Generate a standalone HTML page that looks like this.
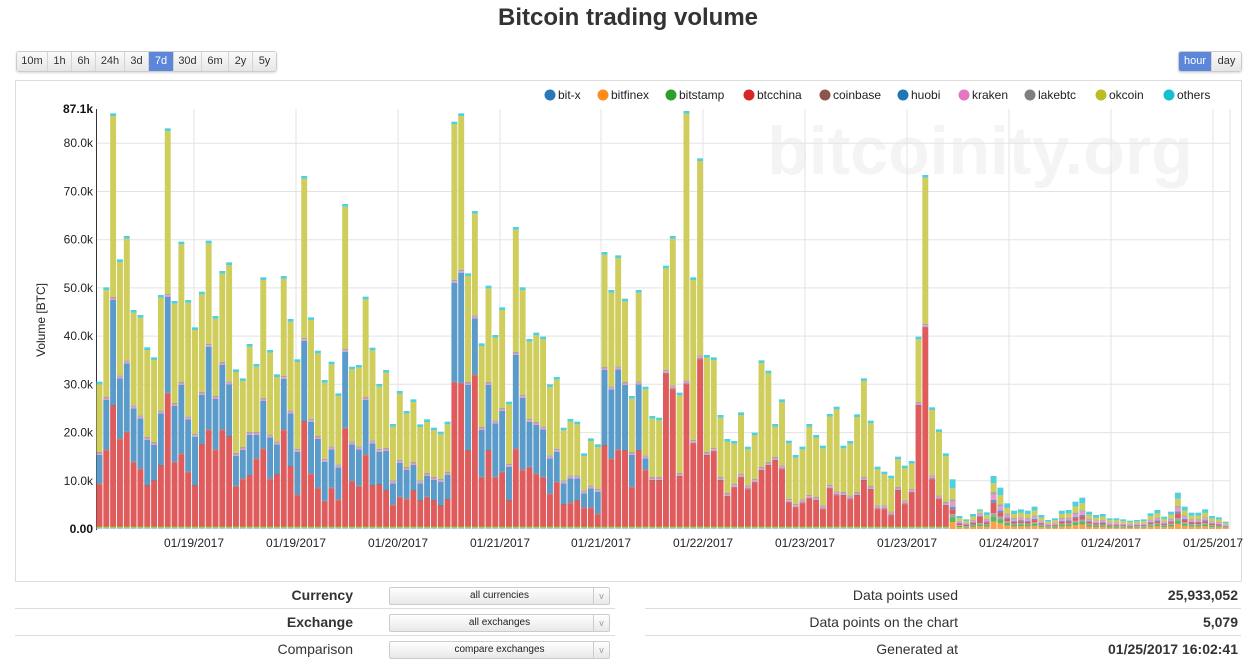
<!DOCTYPE html>
<html><head><meta charset="utf-8"><style>
body{margin:0;width:1251px;height:657px;overflow:hidden;background:#fff;font-family:"Liberation Sans",sans-serif;color:#333;position:relative}
.a{position:absolute}
h1{position:absolute;left:0;width:1256px;top:4px;margin:0;text-align:center;font-size:24px;font-weight:bold;color:#333}
.btns{position:absolute;top:51px;height:19px;display:flex;border:1px solid #ccc;border-radius:3px;overflow:hidden;box-shadow:0 1px 2px rgba(0,0,0,.15)}
.btns span{font-size:11px;line-height:19px;text-align:center;background:linear-gradient(#fafafa,#e6e6e6);border-right:1px solid #d4d4d4;color:#333}
.btns span.on{background:#5b86d9;color:#fff}
.sel{position:absolute;left:389px;width:219px;height:16px;border:1px solid #ccc;border-radius:2px;background:linear-gradient(#fff,#e8e8e8);font-size:10px;text-align:center;line-height:16px;color:#222}
.sel:after{content:"v";position:absolute;right:0;top:0;width:15px;height:16px;border-left:1px solid #ccc;color:#999;font-size:9px}
.lab{position:absolute;font-size:14px;text-align:right}
.hl{position:absolute;height:1px;background:#ddd}
</style></head><body>
<h1>Bitcoin trading volume</h1>
<div class="btns" style="left:16px"><span style="width:30px">10m</span><span style="width:23px">1h</span><span style="width:23px">6h</span><span style="width:28px">24h</span><span style="width:23px">3d</span><span class="on" style="width:24px">7d</span><span style="width:27px">30d</span><span style="width:26px">6m</span><span style="width:23px">2y</span><span style="width:23px;border:0">5y</span></div>
<div class="btns" style="left:1178px"><span class="on" style="width:32px">hour</span><span style="width:29px;border:0">day</span></div>
<div class="a" style="left:15px;top:80px;width:1225px;height:500px;border:1px solid #ddd"></div>
<svg class="a" style="left:0;top:0" width="1251" height="600" id="s">
<text x="980" y="174" font-size="68" font-weight="bold" fill="#f4f4f4" text-anchor="middle" font-family="Liberation Sans">bitcoinity.org</text>
</svg>
<div class="hl" style="left:15px;top:608px;width:600px"></div>
<div class="hl" style="left:15px;top:635px;width:600px"></div>
<div class="hl" style="left:645px;top:581px;width:596px"></div>
<div class="hl" style="left:645px;top:608px;width:596px"></div>
<div class="hl" style="left:645px;top:635px;width:596px"></div>
<div class="lab" style="right:898px;top:587px;font-weight:bold">Currency</div>
<div class="lab" style="right:898px;top:614px;font-weight:bold">Exchange</div>
<div class="lab" style="right:898px;top:641px">Comparison</div>
<div class="sel" style="top:587px">all currencies</div>
<div class="sel" style="top:614px">all exchanges</div>
<div class="sel" style="top:641px">compare exchanges</div>
<div class="lab" style="right:293px;top:587px">Data points used</div>
<div class="lab" style="right:293px;top:614px">Data points on the chart</div>
<div class="lab" style="right:293px;top:641px">Generated at</div>
<div class="lab" style="right:13px;top:587px;font-weight:bold">25,933,052</div>
<div class="lab" style="right:13px;top:614px;font-weight:bold">5,079</div>
<div class="lab" style="right:13px;top:641px;font-weight:bold">01/25/2017 16:02:41</div>
<script>
var T=[845,562,40,478,408,630,645,742,772,585,85,603,425,600,682,575,422,648,513,487,808,835,732,792,532,750,823,528,657,778,228,652,752,840,785,880,312,800,795,590,743,852,810,972,873,933,898,973,958,983,995,965,65,40,520,333,730,557,705,622,905,381,562,717,698,710,853,831,983,957,965,1060,1015,1033,456,570,466,596,888,570,860,948,953,497,408,878,33,532,175,765,772,945,1017,1023,937,1040,998,781,812,972,898,1022,1065,1040,972,1005,1037,942,920,1037,1023,943,835,962,1100,1115,1127,1070,1097,1083,710,225,922,988,1060,1138,1248,1258,1242,1228,1237,1128,1163,1210,1232,1228,1232,1220,1245,1260,1255,1232,1230,1205,1193,1235,1245,1242,1255,1255,1258,1262,1260,1258,1240,1230,1250,1235,1178,1220,1238,1238,1228,1248,1252,1265];
var B=[1065,900,600,835,790,925,955,1020,1035,940,590,918,855,958,1010,885,740,897,795,853,1068,1050,1005,1005,903,1012,1033,836,940,1055,722,965,1017,1085,1048,1102,755,1033,1048,900,1030,1055,1053,1150,1088,1110,1095,1150,1128,1140,1145,1125,548,518,855,655,990,855,970,933,1100,765,893,965,975,988,1075,1055,1150,1135,1135,1180,1165,1175,810,868,808,855,1065,853,1075];
var R=[1150,1048,915,1015,995,1085,1105,1155,1140,1095,878,1085,1060,1115,1155,1032,988,1048,988,1008,1157,1135,1125,1075,1045,1135,1122,988,1098,1183,963,1120,1162,1202,1163,1198,983,1142,1157,1063,1155,1152,1170,1213,1190,1195,1170,1200,1190,1200,1215,1197,845,848,1050,823,1130,1050,1130,1115,1200,1045,1108,1100,1120,1130,1180,1145,1212,1207,1200,1222,1222,1240,1035,1075,1048,1050,1160,1050,1108,1140,1140,818,865,1128,850,1028,775,1065,1052,1140,1188,1160,1130,1165,1145,1110,1095,1080,1105,1205,1220,1207,1193,1200,1225,1163,1183,1185,1195,1185,1140,1167,1225,1225,1243,1170,1210,1175,915,680,1135,1195,1215,1243,1270,1275,1270,1250,1275,1208,1245,1265,1270,1270,1270,1270,1275,1280,1278,1275,1275,1265,1260,1275,1278,1275,1280,1280,1280,1282,1282,1282,1278,1275,1280,1275,1240,1260,1270,1270,1268,1275,1278,1282];
var s=document.getElementById('s'),h='',NS=166,P=(1229-96)/NS;
function ry(z){return 100+z/3}
function Y(v){return 529-v*4.822}
var vals=[80,70,60,50,40,30,20,10];
vals.forEach(function(v){var y=Y(v).toFixed(1);h+='<line x1="96" x2="1230" y1="'+y+'" y2="'+y+'" stroke="#e3e3e3"/>';
h+='<text x="93" y="'+(+y+4)+'" font-size="12" text-anchor="end" fill="#222">'+v.toFixed(1)+'k</text>';});
var gx=[194,296,398,500,601,703,805,907,1009,1111,1213],gl=['01/19/2017','01/19/2017','01/20/2017','01/21/2017','01/21/2017','01/22/2017','01/23/2017','01/23/2017','01/24/2017','01/24/2017','01/25/2017'];
gx.forEach(function(x,i){h+='<line x1="'+x+'" x2="'+x+'" y1="109" y2="529" stroke="#e3e3e3"/>';
h+='<text x="'+x+'" y="547" font-size="12" text-anchor="middle" fill="#222">'+gl[i]+'</text>';});
h+='<line x1="1230" x2="1230" y1="109" y2="529" stroke="#e3e3e3"/>';
h+='<text x="93" y="113" font-size="12" font-weight="bold" text-anchor="end" fill="#111">87.1k</text>';
h+='<text x="93" y="533" font-size="12" font-weight="bold" text-anchor="end" fill="#111">0.00</text>';
h+='<line x1="96.5" x2="96.5" y1="109" y2="530" stroke="#333"/>';
h+='<text transform="translate(45,320) rotate(-90)" font-size="12" text-anchor="middle" fill="#222">Volume [BTC]</text>';
function r(x,y1,y2,c){if(y2-y1<=0.05)return;h+='<rect x="'+x.toFixed(2)+'" y="'+y1.toFixed(2)+'" width="'+(P-0.9).toFixed(2)+'" height="'+(y2-y1).toFixed(2)+'" fill="'+c+'"/>';}
for(var i=0;i<NS;i++){
 var x=96.5+i*P,t=ry(T[i]),rr=ry(R[i]),b=B[i]!==undefined?ry(B[i]):rr;
 var small=i>=125,H=529-t;
 if(!small){
  r(x,528,529,'#b0c8d8');r(x,527,528,'#fca04a');r(x,526,527,'#5cb85c');
  r(x,rr+1,526,'#e05c5c');r(x,rr,rr+1,'#a0706a');
  r(x,b,rr,'#5a9bc9');
  r(x,b-1.5,b,'#e89ad0');r(x,b-3,b-1.5,'#a6a6a6');
  r(x,t+2.7,b-3,'#cfcd5c');r(x,t,t+2.7,'#4fd0dc');
 }else{
  var y=529;function seg(f,c){var hh=H*f;r(x,y-hh,y,c);y-=hh;}
  seg(.14,'#fca04a');seg(.1,'#5cb85c');seg(.06,'#a6a6a6');
  var redf=(529-rr)/H-0.3;if(redf<0.1)redf=0.1;
  seg(redf,'#e05c5c');seg(.05,'#5a9bc9');seg(.1,'#e89ad0');seg(.05,'#a6a6a6');
  var rest=(y-t);r(x,t+rest*0.45,y,'#cfcd5c');r(x,t,t+rest*0.45,'#4fd0dc');
 }
}
var L=[['bit-x','#2a78b8',545],['bitfinex','#ff8c1a',598],['bitstamp','#2ca02c',666],['btcchina','#d62728',744],['coinbase','#8c564b',820],['huobi','#1f77b4',898],['kraken','#e377c2',959],['lakebtc','#7f7f7f',1025],['okcoin','#bcbd22',1096],['others','#17becf',1164]];
L.forEach(function(l){h+='<circle cx="'+(l[2]+5)+'" cy="95" r="5.5" fill="'+l[1]+'"/><text x="'+(l[2]+13)+'" y="99" font-size="12" fill="#222">'+l[0]+'</text>';});
s.insertAdjacentHTML('beforeend',h);
</script>
</body></html>
